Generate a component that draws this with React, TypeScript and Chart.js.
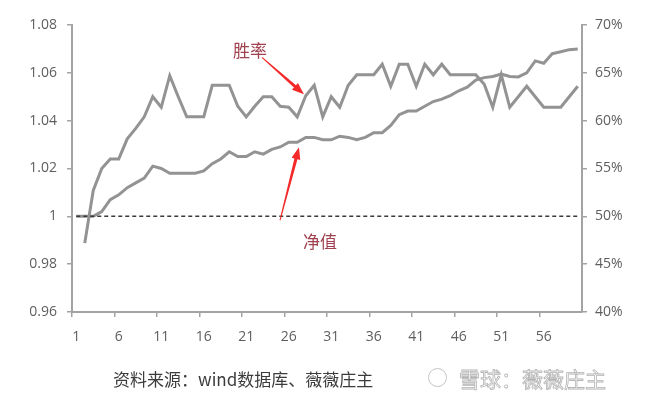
import React, { useEffect, useRef } from 'react';
import { Chart, registerables } from 'chart.js';

Chart.register(...registerables);

const categories = [
  '1', '2', '3', '4', '5', '6', '7', '8', '9', '10',
  '11', '12', '13', '14', '15', '16', '17', '18', '19', '20',
  '21', '22', '23', '24', '25', '26', '27', '28', '29', '30',
  '31', '32', '33', '34', '35', '36', '37', '38', '39', '40',
  '41', '42', '43', '44', '45', '46', '47', '48', '49', '50',
  '51', '52', '53', '54', '55', '56', '57', '58', '59', '60',
];

// 净值 (left axis)
const netValue = [
  1.000, 1.000, 1.000, 1.002, 1.007, 1.009, 1.012, 1.014, 1.016, 1.021,
  1.020, 1.018, 1.018, 1.018, 1.018, 1.019, 1.022, 1.024, 1.027, 1.025,
  1.025, 1.027, 1.026, 1.028, 1.029, 1.031, 1.031, 1.033, 1.033, 1.032,
  1.032, 1.0335, 1.033, 1.032, 1.033, 1.035, 1.035, 1.038, 1.0425, 1.044,
  1.044, 1.046, 1.048, 1.049, 1.0505, 1.0525, 1.054, 1.057, 1.058, 1.0585,
  1.0595, 1.0585, 1.0583, 1.060, 1.065, 1.064, 1.068, 1.0688, 1.0697, 1.070,
];

// 胜率 (right axis, %)
const winRate = [
  null, 47.2, 52.7, 55.0, 56.0, 56.0, 58.1, 59.2, 60.4, 62.5,
  61.4, 64.7, 62.5, 60.4, 60.4, 60.4, 63.7, 63.7, 63.7, 61.5,
  60.4, 61.5, 62.5, 62.5, 61.5, 61.4, 60.4, 62.6, 63.7, 60.4,
  62.5, 61.4, 63.7, 64.8, 64.8, 64.8, 65.9, 63.6, 65.9, 65.9,
  63.6, 65.9, 64.8, 65.9, 64.8, 64.8, 64.8, 64.8, 63.8, 61.4,
  64.8, 61.4, 62.5, 63.6, 62.5, 61.4, 61.4, 61.4, 62.5, 63.6,
];

// dashed 1.0 reference line
const baseline = [
  1, 1, 1, 1, 1, 1, 1, 1, 1, 1,
  1, 1, 1, 1, 1, 1, 1, 1, 1, 1,
  1, 1, 1, 1, 1, 1, 1, 1, 1, 1,
  1, 1, 1, 1, 1, 1, 1, 1, 1, 1,
  1, 1, 1, 1, 1, 1, 1, 1, 1, 1,
  1, 1, 1, 1, 1, 1, 1, 1, 1, 1,
];

const leftAxis = { min: 0.96, max: 1.08, step: 0.02 };
const rightAxis = { min: 40, max: 70, step: 5 };

// annotations in data coordinates (category index, right-axis %)
const annotationLabels = [
  { text: '胜率', index: 20.44, pct: 67.35 },
  { text: '净值', index: 28.68, pct: 47.39 },
];
const annotationArrows = [
  { fromIndex: 21.85, fromPct: 66.62, toIndex: 26.79, toPct: 62.75 },
  { fromIndex: 23.97, fromPct: 49.58, toIndex: 26.2, toPct: 57.21 },
];

const sourceText = '资料来源：wind数据库、薇薇庄主';
const watermarkText = '雪球：薇薇庄主';

const LINE_GRAY = '#939393';
const AXIS_GRAY = '#a3a3a3';
const TICK_COLOR = '#5e5e5e';
const TICK_FONT = { family: '"Open Sans", "Noto Sans", sans-serif', size: 14 };

const annotationPlugin = {
  id: 'arrowAnnotations',
  afterDatasetsDraw(chart: any) {
    const { ctx, scales } = chart;
    const xs = scales.x;
    const ys = scales.y2;
    ctx.save();
    annotationArrows.forEach((a) => {
      const x1 = xs.getPixelForValue(a.fromIndex);
      const y1 = ys.getPixelForValue(a.fromPct);
      const x2 = xs.getPixelForValue(a.toIndex);
      const y2 = ys.getPixelForValue(a.toPct);
      const ang = Math.atan2(y2 - y1, x2 - x1);
      const cos = Math.cos(ang);
      const sin = Math.sin(ang);
      const headLen = 12;
      const headHalf = 4.5;
      const bx = x2 - headLen * cos;
      const by = y2 - headLen * sin;
      const tailHalf = 0.5;
      const neckHalf = 1.6;
      ctx.fillStyle = '#f42a2a';
      ctx.beginPath();
      ctx.moveTo(x1 - sin * tailHalf, y1 + cos * tailHalf);
      ctx.lineTo(bx - sin * neckHalf, by + cos * neckHalf);
      ctx.lineTo(bx - sin * headHalf, by + cos * headHalf);
      ctx.lineTo(x2, y2);
      ctx.lineTo(bx + sin * headHalf, by - cos * headHalf);
      ctx.lineTo(bx + sin * neckHalf, by - cos * neckHalf);
      ctx.lineTo(x1 + sin * tailHalf, y1 - cos * tailHalf);
      ctx.closePath();
      ctx.fill();
    });
    ctx.font = '17px "Noto Sans CJK SC", sans-serif';
    ctx.fillStyle = '#a0414f';
    ctx.textAlign = 'center';
    ctx.textBaseline = 'middle';
    annotationLabels.forEach((l) => {
      ctx.fillText(l.text, xs.getPixelForValue(l.index), ys.getPixelForValue(l.pct));
    });
    ctx.restore();
  },
};

export default function App() {
  const canvasRef = useRef<HTMLCanvasElement | null>(null);

  useEffect(() => {
    if (!canvasRef.current) return;
    const chart = new Chart(canvasRef.current, {
      type: 'line',
      data: {
        labels: categories,
        datasets: [
          {
            label: '基准',
            data: baseline,
            yAxisID: 'y',
            borderColor: '#3a3a3a',
            borderWidth: 1.5,
            borderDash: [4, 3],
            pointRadius: 0,
            fill: false,
          },
          {
            label: '净值',
            data: netValue,
            yAxisID: 'y',
            borderColor: LINE_GRAY,
            borderWidth: 3,
            pointRadius: 0,
            tension: 0,
            fill: false,
          },
          {
            label: '胜率',
            data: winRate,
            yAxisID: 'y2',
            borderColor: LINE_GRAY,
            borderWidth: 3,
            pointRadius: 0,
            tension: 0,
            fill: false,
          },
        ],
      },
      options: {
        responsive: false,
        animation: false,
        layout: { padding: { top: 25, left: 0, right: 0, bottom: 0 } },
        plugins: {
          legend: { display: false },
          tooltip: { enabled: false },
          title: { display: false },
        },
        scales: {
          x: {
            type: 'category',
            offset: true,
            grid: {
              display: true,
              drawOnChartArea: false,
              drawTicks: true,
              tickLength: 5,
              offset: true,
              lineWidth: 1.5,
              color: (c: any) => (typeof c.index === 'number' && c.index % 5 === 0 ? AXIS_GRAY : 'rgba(0,0,0,0)'),
            },
            border: { color: AXIS_GRAY, width: 2 },
            ticks: {
              autoSkip: false,
              maxRotation: 0,
              minRotation: 0,
              padding: 12,
              color: TICK_COLOR,
              font: TICK_FONT,
              callback: (_v: any, i: number) => (i % 5 === 0 ? categories[i] : ''),
            },
            afterFit: (s: any) => {
              s.height = 85;
            },
          },
          y: {
            position: 'left',
            min: leftAxis.min,
            max: leftAxis.max,
            grid: { drawOnChartArea: false, tickLength: 5, color: AXIS_GRAY, lineWidth: 1.5 },
            border: { color: AXIS_GRAY, width: 2 },
            ticks: {
              stepSize: leftAxis.step,
              padding: 10,
              color: TICK_COLOR,
              font: TICK_FONT,
              callback: (v: any) => String(parseFloat(Number(v).toFixed(2))),
            },
            afterFit: (s: any) => {
              s.width = 72;
            },
          },
          y2: {
            position: 'right',
            min: rightAxis.min,
            max: rightAxis.max,
            grid: { drawOnChartArea: false, tickLength: 5, color: AXIS_GRAY, lineWidth: 1.5 },
            border: { color: AXIS_GRAY, width: 2 },
            ticks: {
              stepSize: rightAxis.step,
              padding: 8,
              color: TICK_COLOR,
              font: TICK_FONT,
              callback: (v: any) => `${Math.round(Number(v))}%`,
            },
            afterFit: (s: any) => {
              s.width = 78;
            },
          },
        },
      },
      plugins: [annotationPlugin],
    } as any);
    return () => chart.destroy();
  }, []);

  return (
    <div style={{ position: 'fixed', left: 0, top: 0, width: 660, height: 397, background: '#fff' }}>
      <canvas ref={canvasRef} width={660} height={397} style={{ display: 'block' }} />
      <div
        style={{
          position: 'absolute',
          left: 113,
          top: 369,
          fontFamily: '"Noto Sans CJK SC", sans-serif',
          fontSize: 17,
          lineHeight: '20px',
          color: '#3c3c3c',
          whiteSpace: 'nowrap',
        }}
      >
        {sourceText}
      </div>
      <div
        style={{
          position: 'absolute',
          left: 428,
          top: 368,
          width: 17,
          height: 17,
          borderRadius: '50%',
          border: '1.5px solid #c4c4c4',
        }}
      />
      <div
        style={{
          position: 'absolute',
          left: 459,
          top: 366,
          fontFamily: '"Noto Sans CJK SC", sans-serif',
          fontSize: 21,
          lineHeight: '24px',
          color: '#ffffff',
          WebkitTextStroke: '0.8px #b4b4b4',
          whiteSpace: 'nowrap',
        }}
      >
        {watermarkText}
      </div>
    </div>
  );
}
